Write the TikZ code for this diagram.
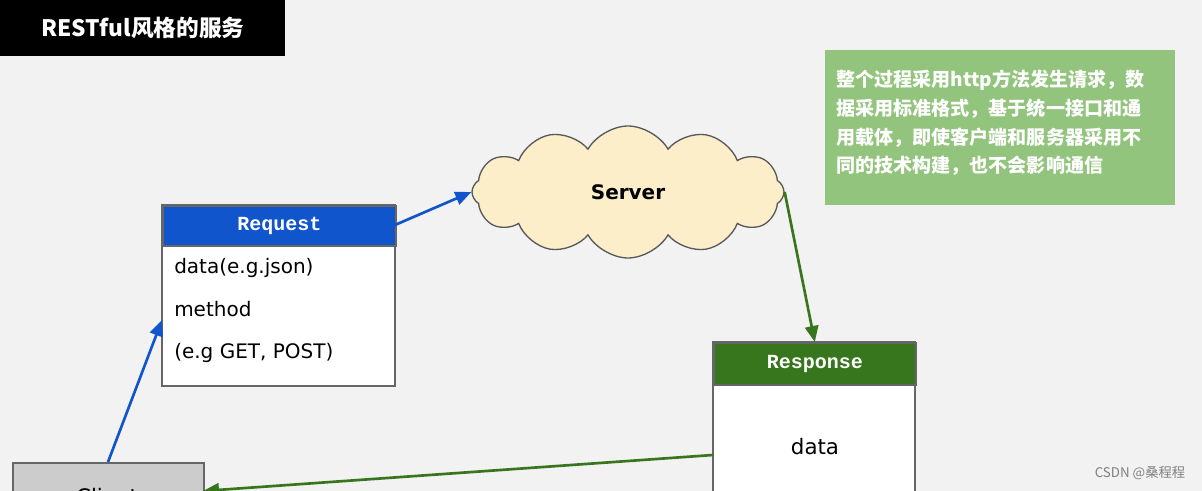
\documentclass[tikz,border=0pt]{standalone}
\usepackage{fontspec}
\setmainfont{DejaVu Sans}
\newfontfamily\cjk{Noto Sans CJK SC}
\newfontfamily\mono{Liberation Mono}
\usetikzlibrary{shapes.symbols,arrows.meta}
\definecolor{bg}{HTML}{F2F2F2}
\definecolor{rqblue}{HTML}{1155CC}
\definecolor{rsgreen}{HTML}{38761D}
\definecolor{note}{HTML}{93C47D}
\definecolor{cloudf}{HTML}{FBEEC8}
\begin{document}
\begin{tikzpicture}[x=0.75pt,y=-0.75pt,
  box/.style={draw=gray!80!black,line width=1.2pt},
  txt/.style={font=\fontsize{15}{18}\selectfont,anchor=west,inner sep=0},
  blue arrow/.style={draw=rqblue,line width=2pt,-{Triangle[length=12pt,width=10pt]}},
  green arrow/.style={draw=rsgreen,line width=2pt,-{Triangle[length=12pt,width=10pt]}}]
\clip (0,0) rectangle (1202,491);
\fill[bg] (0,0) rectangle (1202,491);
% title
\node[fill=black,minimum width=285*0.75pt,minimum height=56*0.75pt,anchor=north west,inner sep=0,text=white,font=\cjk\bfseries\fontsize{17}{20}\selectfont] (title) at (0,0) {RESTful风格的服务};
% note
\node[fill=note,minimum width=350*0.75pt,minimum height=155*0.75pt,anchor=north west,inner sep=0] (note) at (825,50) {};
\node[anchor=north west,text=white,font=\cjk\bfseries\fontsize{14.3}{21.5}\selectfont,align=left,inner sep=0] (notetxt) at (836,70) {整个过程采用http方法发生请求，数\\据采用标准格式，基于统一接口和通\\用载体，即使客户端和服务器采用不\\同的技术构建，也不会影响通信};
% cloud
\node[cloud,cloud puffs=12,cloud puff arc=120,aspect=2.3,draw=gray!70!black,fill=cloudf,line width=1pt,minimum width=312*0.75pt,minimum height=132*0.75pt,font=\bfseries\fontsize{15}{18}\selectfont] (server) at (628,192) {Server};
% request
\draw[box,fill=white] (162,205) rectangle (395,386);
\node[box,fill=rqblue,minimum width=233*0.75pt,minimum height=40*0.75pt,anchor=north west,inner sep=0,text=white,font=\mono\bfseries\fontsize{15}{18}\selectfont] (req) at (162,205) {Request};
\node[txt] (r1) at (174,268) {data(e.g.json)};
\node[txt] (r2) at (174,309) {method};
\node[txt] (r3) at (174,353) {(e.g GET, POST)};
\coordinate (reqL) at (162,320);
\coordinate (reqR) at (395,225);
% response
\draw[box,fill=white] (713,342) rectangle (915,500);
\node[box,fill=rsgreen,minimum width=202*0.75pt,minimum height=42*0.75pt,anchor=north west,inner sep=0,text=white,font=\mono\bfseries\fontsize{15}{18}\selectfont] (resp) at (713,342) {Response};
\node[font=\fontsize{16}{19}\selectfont] (data) at (815,447) {data};
\coordinate (respL) at (713,455);
% client
\node[box,fill=gray!40,minimum width=191*0.75pt,minimum height=60*0.75pt,anchor=north west,inner sep=0] (client) at (12,462) {};
\node[font=\fontsize{16}{19}\selectfont] (clienttxt) at (107,497) {Client};
\coordinate (clientT) at (108,462);
\coordinate (clientR) at (203,491);
% arrows
\draw[blue arrow] (clientT) -- (reqL);
\draw[blue arrow] (reqR) -- (server.west);
\draw[green arrow] (server.east) -- (resp.north);
\draw[green arrow] (respL) -- (clientR);
% watermark
\node[text=gray,font=\cjk\fontsize{10}{12}\selectfont] (wm) at (1140,473) {CSDN @桑程程};
\end{tikzpicture}
\end{document}
